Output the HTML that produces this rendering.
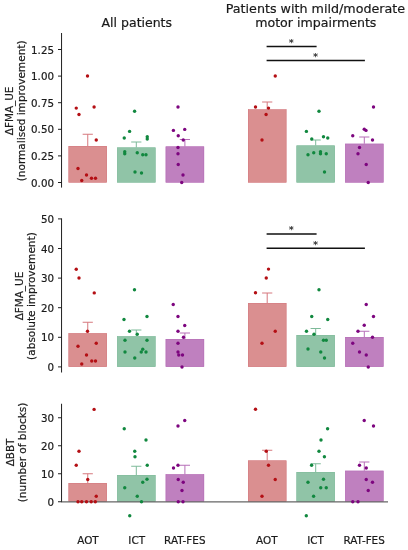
<!DOCTYPE html>
<html lang="en"><head><meta charset="utf-8"><title>Figure</title>
<style>html,body{margin:0;padding:0;background:#fff}svg{display:block}text{font-family:"DejaVu Sans","Liberation Sans",sans-serif;fill:#1a1a1a;stroke:#1a1a1a;stroke-width:0.2px}</style>
</head><body>
<svg width="408" height="550" viewBox="0 0 408 550">
<rect width="408" height="550" fill="#fff"/>
<text x="136.8" y="27" font-size="12.5" text-anchor="middle">All patients</text>
<text x="315.4" y="13" font-size="12.7" text-anchor="middle">Patients with mild/moderate</text>
<text x="315.8" y="27" font-size="12.6" text-anchor="middle">motor impairments</text>
<rect x="68.55" y="146.00" width="38.40" height="36.50" fill="#da8f90"/>
<rect x="68.80" y="146.25" width="37.90" height="36.00" fill="none" stroke="#d4797f" stroke-width="0.5"/>
<path d="M87.75 146.00V134.25M82.65 134.25H92.85" stroke="#d6787e" stroke-width="1" fill="none"/>
<rect x="117.10" y="147.50" width="38.40" height="35.00" fill="#90c4a7"/>
<rect x="117.35" y="147.75" width="37.90" height="34.50" fill="none" stroke="#7fb99a" stroke-width="0.5"/>
<path d="M136.30 147.50V142.00M131.20 142.00H141.40" stroke="#7dba99" stroke-width="1" fill="none"/>
<rect x="165.70" y="146.50" width="38.40" height="36.00" fill="#bf80bf"/>
<rect x="165.95" y="146.75" width="37.90" height="35.50" fill="none" stroke="#b56cb6" stroke-width="0.5"/>
<path d="M184.90 146.50V139.50M179.80 139.50H190.00" stroke="#b76fb8" stroke-width="1" fill="none"/>
<rect x="248.00" y="109.40" width="38.40" height="73.10" fill="#da8f90"/>
<rect x="248.25" y="109.65" width="37.90" height="72.60" fill="none" stroke="#d4797f" stroke-width="0.5"/>
<path d="M267.20 109.40V102.00M262.10 102.00H272.30" stroke="#d6787e" stroke-width="1" fill="none"/>
<rect x="296.50" y="145.50" width="38.40" height="37.00" fill="#90c4a7"/>
<rect x="296.75" y="145.75" width="37.90" height="36.50" fill="none" stroke="#7fb99a" stroke-width="0.5"/>
<path d="M315.70 145.50V140.00M310.60 140.00H320.80" stroke="#7dba99" stroke-width="1" fill="none"/>
<rect x="345.10" y="143.75" width="38.40" height="38.75" fill="#bf80bf"/>
<rect x="345.35" y="144.00" width="37.90" height="38.25" fill="none" stroke="#b56cb6" stroke-width="0.5"/>
<path d="M364.30 143.75V137.00M359.20 137.00H369.40" stroke="#b76fb8" stroke-width="1" fill="none"/>
<g fill="#b40f14"><circle cx="87.50" cy="76.00" r="1.7"/><circle cx="76.25" cy="108.10" r="1.7"/><circle cx="79.00" cy="114.50" r="1.7"/><circle cx="94.10" cy="107.00" r="1.7"/><circle cx="96.25" cy="140.00" r="1.7"/><circle cx="78.00" cy="168.50" r="1.7"/><circle cx="81.75" cy="180.50" r="1.7"/><circle cx="86.50" cy="175.00" r="1.7"/><circle cx="91.50" cy="178.25" r="1.7"/><circle cx="95.50" cy="178.25" r="1.7"/></g>
<g fill="#11883f"><circle cx="134.60" cy="111.25" r="1.7"/><circle cx="129.60" cy="131.40" r="1.7"/><circle cx="124.25" cy="138.00" r="1.7"/><circle cx="147.25" cy="136.75" r="1.7"/><circle cx="147.25" cy="139.00" r="1.7"/><circle cx="124.75" cy="151.75" r="1.7"/><circle cx="124.75" cy="153.75" r="1.7"/><circle cx="137.25" cy="152.75" r="1.7"/><circle cx="142.75" cy="154.75" r="1.7"/><circle cx="146.00" cy="154.75" r="1.7"/><circle cx="135.00" cy="172.00" r="1.7"/><circle cx="141.50" cy="173.00" r="1.7"/></g>
<g fill="#7d057f"><circle cx="178.00" cy="107.00" r="1.7"/><circle cx="173.40" cy="130.40" r="1.7"/><circle cx="184.75" cy="129.40" r="1.7"/><circle cx="178.25" cy="135.75" r="1.7"/><circle cx="183.25" cy="140.00" r="1.7"/><circle cx="178.00" cy="147.50" r="1.7"/><circle cx="178.00" cy="153.75" r="1.7"/><circle cx="178.25" cy="164.50" r="1.7"/><circle cx="183.00" cy="175.00" r="1.7"/><circle cx="181.75" cy="182.50" r="1.7"/></g>
<g fill="#b40f14"><circle cx="275.25" cy="76.00" r="1.7"/><circle cx="255.50" cy="107.00" r="1.7"/><circle cx="268.50" cy="108.10" r="1.7"/><circle cx="266.10" cy="114.50" r="1.7"/><circle cx="262.00" cy="140.00" r="1.7"/></g>
<g fill="#11883f"><circle cx="319.00" cy="111.25" r="1.7"/><circle cx="306.40" cy="131.40" r="1.7"/><circle cx="311.75" cy="139.00" r="1.7"/><circle cx="323.50" cy="136.75" r="1.7"/><circle cx="327.75" cy="138.00" r="1.7"/><circle cx="308.00" cy="154.75" r="1.7"/><circle cx="313.75" cy="152.75" r="1.7"/><circle cx="320.50" cy="151.75" r="1.7"/><circle cx="320.50" cy="153.75" r="1.7"/><circle cx="326.25" cy="153.75" r="1.7"/><circle cx="324.50" cy="172.00" r="1.7"/></g>
<g fill="#7d057f"><circle cx="373.50" cy="107.00" r="1.7"/><circle cx="364.25" cy="129.20" r="1.7"/><circle cx="366.00" cy="130.40" r="1.7"/><circle cx="352.75" cy="135.75" r="1.7"/><circle cx="372.50" cy="140.00" r="1.7"/><circle cx="359.50" cy="147.50" r="1.7"/><circle cx="358.00" cy="153.75" r="1.7"/><circle cx="366.25" cy="164.50" r="1.7"/><circle cx="368.25" cy="182.50" r="1.7"/></g>
<path d="M61.55 33.00V187.60" stroke="#202020" stroke-width="1" fill="none"/>
<path d="M58 182.50H61.55" stroke="#202020" stroke-width="1" fill="none"/>
<text x="54" y="186.60" font-size="10.3" text-anchor="end">0.00</text>
<path d="M58 155.90H61.55" stroke="#202020" stroke-width="1" fill="none"/>
<text x="54" y="160.00" font-size="10.3" text-anchor="end">0.25</text>
<path d="M58 129.30H61.55" stroke="#202020" stroke-width="1" fill="none"/>
<text x="54" y="133.40" font-size="10.3" text-anchor="end">0.50</text>
<path d="M58 102.70H61.55" stroke="#202020" stroke-width="1" fill="none"/>
<text x="54" y="106.80" font-size="10.3" text-anchor="end">0.75</text>
<path d="M58 76.10H61.55" stroke="#202020" stroke-width="1" fill="none"/>
<text x="54" y="80.20" font-size="10.3" text-anchor="end">1.00</text>
<path d="M58 49.50H61.55" stroke="#202020" stroke-width="1" fill="none"/>
<text x="54" y="53.60" font-size="10.3" text-anchor="end">1.25</text>
<text font-size="10.4" text-anchor="middle" transform="translate(13.20 110.90) rotate(-90)">ΔFMA_UE</text>
<text font-size="10.55" text-anchor="middle" transform="translate(24.70 110.90) rotate(-90)">(normalised improvement)</text>
<rect x="68.55" y="333.20" width="38.40" height="33.70" fill="#da8f90"/>
<rect x="68.80" y="333.45" width="37.90" height="33.20" fill="none" stroke="#d4797f" stroke-width="0.5"/>
<path d="M87.75 333.20V322.25M82.65 322.25H92.85" stroke="#d6787e" stroke-width="1" fill="none"/>
<rect x="117.10" y="336.25" width="38.40" height="30.65" fill="#90c4a7"/>
<rect x="117.35" y="336.50" width="37.90" height="30.15" fill="none" stroke="#7fb99a" stroke-width="0.5"/>
<path d="M136.30 336.25V330.00M131.20 330.00H141.40" stroke="#7dba99" stroke-width="1" fill="none"/>
<rect x="165.70" y="339.00" width="38.40" height="27.90" fill="#bf80bf"/>
<rect x="165.95" y="339.25" width="37.90" height="27.40" fill="none" stroke="#b56cb6" stroke-width="0.5"/>
<path d="M184.90 339.00V333.00M179.80 333.00H190.00" stroke="#b76fb8" stroke-width="1" fill="none"/>
<rect x="248.00" y="303.00" width="38.40" height="63.90" fill="#da8f90"/>
<rect x="248.25" y="303.25" width="37.90" height="63.40" fill="none" stroke="#d4797f" stroke-width="0.5"/>
<path d="M267.20 303.00V293.00M262.10 293.00H272.30" stroke="#d6787e" stroke-width="1" fill="none"/>
<rect x="296.50" y="335.00" width="38.40" height="31.90" fill="#90c4a7"/>
<rect x="296.75" y="335.25" width="37.90" height="31.40" fill="none" stroke="#7fb99a" stroke-width="0.5"/>
<path d="M315.70 335.00V328.50M310.60 328.50H320.80" stroke="#7dba99" stroke-width="1" fill="none"/>
<rect x="345.10" y="337.00" width="38.40" height="29.90" fill="#bf80bf"/>
<rect x="345.35" y="337.25" width="37.90" height="29.40" fill="none" stroke="#b56cb6" stroke-width="0.5"/>
<path d="M364.30 337.00V331.25M359.20 331.25H369.40" stroke="#b76fb8" stroke-width="1" fill="none"/>
<g fill="#b40f14"><circle cx="76.25" cy="269.25" r="1.7"/><circle cx="79.00" cy="278.00" r="1.7"/><circle cx="94.25" cy="292.90" r="1.7"/><circle cx="87.50" cy="331.25" r="1.7"/><circle cx="78.00" cy="346.25" r="1.7"/><circle cx="96.25" cy="343.25" r="1.7"/><circle cx="86.50" cy="355.00" r="1.7"/><circle cx="81.75" cy="364.00" r="1.7"/><circle cx="91.75" cy="361.00" r="1.7"/><circle cx="95.50" cy="361.00" r="1.7"/></g>
<g fill="#11883f"><circle cx="134.50" cy="289.75" r="1.7"/><circle cx="124.00" cy="319.50" r="1.7"/><circle cx="147.00" cy="316.50" r="1.7"/><circle cx="129.50" cy="331.25" r="1.7"/><circle cx="137.25" cy="334.25" r="1.7"/><circle cx="125.00" cy="340.25" r="1.7"/><circle cx="147.00" cy="340.25" r="1.7"/><circle cx="125.00" cy="352.00" r="1.7"/><circle cx="141.25" cy="352.00" r="1.7"/><circle cx="142.75" cy="349.25" r="1.7"/><circle cx="146.00" cy="352.00" r="1.7"/><circle cx="134.75" cy="358.00" r="1.7"/></g>
<g fill="#7d057f"><circle cx="173.25" cy="304.50" r="1.7"/><circle cx="178.00" cy="316.50" r="1.7"/><circle cx="184.75" cy="325.50" r="1.7"/><circle cx="178.00" cy="331.25" r="1.7"/><circle cx="183.50" cy="337.25" r="1.7"/><circle cx="178.00" cy="343.25" r="1.7"/><circle cx="178.00" cy="352.00" r="1.7"/><circle cx="178.75" cy="355.00" r="1.7"/><circle cx="182.50" cy="355.00" r="1.7"/><circle cx="182.00" cy="367.00" r="1.7"/></g>
<g fill="#b40f14"><circle cx="268.50" cy="269.10" r="1.7"/><circle cx="266.25" cy="278.00" r="1.7"/><circle cx="255.50" cy="292.75" r="1.7"/><circle cx="275.25" cy="331.25" r="1.7"/><circle cx="262.00" cy="343.25" r="1.7"/></g>
<g fill="#11883f"><circle cx="319.00" cy="289.75" r="1.7"/><circle cx="311.75" cy="316.50" r="1.7"/><circle cx="327.75" cy="319.50" r="1.7"/><circle cx="306.50" cy="331.25" r="1.7"/><circle cx="314.00" cy="334.25" r="1.7"/><circle cx="323.50" cy="340.25" r="1.7"/><circle cx="326.25" cy="340.25" r="1.7"/><circle cx="308.00" cy="349.00" r="1.7"/><circle cx="320.75" cy="352.00" r="1.7"/><circle cx="324.50" cy="358.00" r="1.7"/></g>
<g fill="#7d057f"><circle cx="366.25" cy="304.50" r="1.7"/><circle cx="373.50" cy="316.50" r="1.7"/><circle cx="364.25" cy="325.25" r="1.7"/><circle cx="358.00" cy="331.25" r="1.7"/><circle cx="372.50" cy="337.25" r="1.7"/><circle cx="352.75" cy="343.25" r="1.7"/><circle cx="359.50" cy="352.00" r="1.7"/><circle cx="366.25" cy="355.00" r="1.7"/><circle cx="368.25" cy="367.00" r="1.7"/></g>
<path d="M61.55 218.40V372.50" stroke="#202020" stroke-width="1" fill="none"/>
<path d="M58 366.90H61.55" stroke="#202020" stroke-width="1" fill="none"/>
<text x="54" y="371.00" font-size="10.3" text-anchor="end">0</text>
<path d="M58 337.30H61.55" stroke="#202020" stroke-width="1" fill="none"/>
<text x="54" y="341.40" font-size="10.3" text-anchor="end">10</text>
<path d="M58 307.70H61.55" stroke="#202020" stroke-width="1" fill="none"/>
<text x="54" y="311.80" font-size="10.3" text-anchor="end">20</text>
<path d="M58 278.10H61.55" stroke="#202020" stroke-width="1" fill="none"/>
<text x="54" y="282.20" font-size="10.3" text-anchor="end">30</text>
<path d="M58 248.50H61.55" stroke="#202020" stroke-width="1" fill="none"/>
<text x="54" y="252.60" font-size="10.3" text-anchor="end">40</text>
<path d="M58 218.90H61.55" stroke="#202020" stroke-width="1" fill="none"/>
<text x="54" y="223.00" font-size="10.3" text-anchor="end">50</text>
<text font-size="10.4" text-anchor="middle" transform="translate(23.10 296.05) rotate(-90)">ΔFMA_UE</text>
<text font-size="10.55" text-anchor="middle" transform="translate(34.70 296.05) rotate(-90)">(absolute improvement)</text>
<rect x="68.55" y="483.00" width="38.40" height="18.75" fill="#da8f90"/>
<rect x="68.80" y="483.25" width="37.90" height="18.25" fill="none" stroke="#d4797f" stroke-width="0.5"/>
<path d="M87.75 483.00V473.75M82.65 473.75H92.85" stroke="#d6787e" stroke-width="1" fill="none"/>
<rect x="117.10" y="475.00" width="38.40" height="26.75" fill="#90c4a7"/>
<rect x="117.35" y="475.25" width="37.90" height="26.25" fill="none" stroke="#7fb99a" stroke-width="0.5"/>
<path d="M136.30 475.00V466.25M131.20 466.25H141.40" stroke="#7dba99" stroke-width="1" fill="none"/>
<rect x="165.70" y="474.25" width="38.40" height="27.50" fill="#bf80bf"/>
<rect x="165.95" y="474.50" width="37.90" height="27.00" fill="none" stroke="#b56cb6" stroke-width="0.5"/>
<path d="M184.90 474.25V465.25M179.80 465.25H190.00" stroke="#b76fb8" stroke-width="1" fill="none"/>
<rect x="248.00" y="460.50" width="38.40" height="41.25" fill="#da8f90"/>
<rect x="248.25" y="460.75" width="37.90" height="40.75" fill="none" stroke="#d4797f" stroke-width="0.5"/>
<path d="M267.20 460.50V450.25M262.10 450.25H272.30" stroke="#d6787e" stroke-width="1" fill="none"/>
<rect x="296.50" y="472.00" width="38.40" height="29.75" fill="#90c4a7"/>
<rect x="296.75" y="472.25" width="37.90" height="29.25" fill="none" stroke="#7fb99a" stroke-width="0.5"/>
<path d="M315.70 472.00V463.75M310.60 463.75H320.80" stroke="#7dba99" stroke-width="1" fill="none"/>
<rect x="345.10" y="470.75" width="38.40" height="31.00" fill="#bf80bf"/>
<rect x="345.35" y="471.00" width="37.90" height="30.50" fill="none" stroke="#b56cb6" stroke-width="0.5"/>
<path d="M364.30 470.75V462.00M359.20 462.00H369.40" stroke="#b76fb8" stroke-width="1" fill="none"/>
<path d="M61.05 501.95H388" stroke="#666" stroke-width="1.2" fill="none"/>
<g fill="#b40f14"><circle cx="94.10" cy="409.40" r="1.7"/><circle cx="79.00" cy="451.25" r="1.7"/><circle cx="76.25" cy="465.25" r="1.7"/><circle cx="87.75" cy="479.50" r="1.7"/><circle cx="96.25" cy="496.25" r="1.7"/><circle cx="78.00" cy="501.75" r="1.7"/><circle cx="81.75" cy="501.75" r="1.7"/><circle cx="86.50" cy="501.75" r="1.7"/><circle cx="91.20" cy="501.75" r="1.7"/><circle cx="95.30" cy="501.75" r="1.7"/></g>
<g fill="#11883f"><circle cx="124.25" cy="428.75" r="1.7"/><circle cx="146.00" cy="440.00" r="1.7"/><circle cx="134.75" cy="451.25" r="1.7"/><circle cx="135.00" cy="456.75" r="1.7"/><circle cx="147.25" cy="465.25" r="1.7"/><circle cx="147.00" cy="479.25" r="1.7"/><circle cx="142.75" cy="482.25" r="1.7"/><circle cx="124.75" cy="487.75" r="1.7"/><circle cx="137.25" cy="496.25" r="1.7"/><circle cx="141.50" cy="501.75" r="1.7"/><circle cx="129.75" cy="515.75" r="1.7"/></g>
<g fill="#7d057f"><circle cx="184.75" cy="420.50" r="1.7"/><circle cx="178.00" cy="426.00" r="1.7"/><circle cx="178.00" cy="465.25" r="1.7"/><circle cx="173.50" cy="468.00" r="1.7"/><circle cx="178.25" cy="479.50" r="1.7"/><circle cx="183.25" cy="482.25" r="1.7"/><circle cx="182.00" cy="490.50" r="1.7"/><circle cx="178.25" cy="501.75" r="1.7"/><circle cx="183.00" cy="501.75" r="1.7"/></g>
<g fill="#b40f14"><circle cx="255.50" cy="409.25" r="1.7"/><circle cx="266.25" cy="451.25" r="1.7"/><circle cx="268.50" cy="465.25" r="1.7"/><circle cx="275.25" cy="479.50" r="1.7"/><circle cx="262.00" cy="496.25" r="1.7"/></g>
<g fill="#11883f"><circle cx="327.60" cy="428.75" r="1.7"/><circle cx="321.00" cy="440.00" r="1.7"/><circle cx="319.00" cy="451.25" r="1.7"/><circle cx="324.40" cy="456.75" r="1.7"/><circle cx="311.60" cy="465.25" r="1.7"/><circle cx="323.50" cy="479.25" r="1.7"/><circle cx="308.00" cy="482.25" r="1.7"/><circle cx="320.75" cy="487.75" r="1.7"/><circle cx="326.25" cy="487.75" r="1.7"/><circle cx="313.60" cy="496.25" r="1.7"/><circle cx="306.30" cy="515.75" r="1.7"/></g>
<g fill="#7d057f"><circle cx="364.25" cy="420.50" r="1.7"/><circle cx="373.50" cy="426.00" r="1.7"/><circle cx="359.50" cy="465.25" r="1.7"/><circle cx="366.25" cy="468.00" r="1.7"/><circle cx="366.25" cy="479.50" r="1.7"/><circle cx="372.50" cy="482.25" r="1.7"/><circle cx="368.25" cy="490.50" r="1.7"/><circle cx="352.75" cy="501.75" r="1.7"/><circle cx="358.00" cy="501.75" r="1.7"/></g>
<path d="M61.55 403.75V501.75" stroke="#202020" stroke-width="1" fill="none"/>
<path d="M58 501.75H61.55" stroke="#202020" stroke-width="1" fill="none"/>
<text x="54" y="505.85" font-size="10.3" text-anchor="end">0</text>
<path d="M58 473.75H61.55" stroke="#202020" stroke-width="1" fill="none"/>
<text x="54" y="477.85" font-size="10.3" text-anchor="end">10</text>
<path d="M58 445.75H61.55" stroke="#202020" stroke-width="1" fill="none"/>
<text x="54" y="449.85" font-size="10.3" text-anchor="end">20</text>
<path d="M58 417.75H61.55" stroke="#202020" stroke-width="1" fill="none"/>
<text x="54" y="421.85" font-size="10.3" text-anchor="end">30</text>
<text font-size="10.4" text-anchor="middle" transform="translate(14.30 452.40) rotate(-90)">ΔBBT</text>
<text font-size="10.55" text-anchor="middle" transform="translate(26.20 452.40) rotate(-90)">(number of blocks)</text>
<path d="M266.6 46.50H316.6M266.6 60.45H364.9" stroke="#111" stroke-width="1.5" fill="none"/>
<text x="291.3" y="45.90" font-size="9.2" stroke="none" text-anchor="middle">*</text>
<text x="315.5" y="59.85" font-size="9.2" stroke="none" text-anchor="middle">*</text>
<path d="M266.6 233.90H316.6M266.6 248.30H364.9" stroke="#111" stroke-width="1.5" fill="none"/>
<text x="291.3" y="233.30" font-size="9.2" stroke="none" text-anchor="middle">*</text>
<text x="315.5" y="247.70" font-size="9.2" stroke="none" text-anchor="middle">*</text>
<text x="88.00" y="544.3" font-size="10.4" text-anchor="middle">AOT</text>
<text x="136.70" y="544.3" font-size="10.4" text-anchor="middle">ICT</text>
<text x="184.80" y="544.3" font-size="10.4" text-anchor="middle">RAT-FES</text>
<text x="266.80" y="544.3" font-size="10.4" text-anchor="middle">AOT</text>
<text x="315.50" y="544.3" font-size="10.4" text-anchor="middle">ICT</text>
<text x="364.10" y="544.3" font-size="10.4" text-anchor="middle">RAT-FES</text>
</svg></body></html>
